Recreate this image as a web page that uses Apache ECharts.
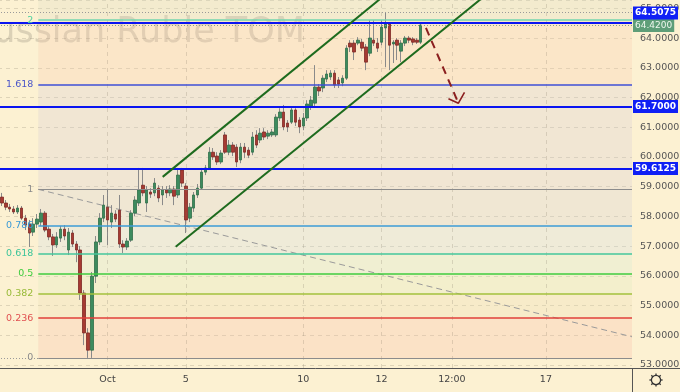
<!DOCTYPE html>
<html><head><meta charset="utf-8">
<script src="https://cdn.jsdelivr.net/npm/echarts@6/dist/echarts.min.js"></script>
<style>html,body{margin:0;padding:0;background:#fcf1d2}#c{width:680px;height:392px}</style>
</head><body><div id="c"></div>
<script>
// hourly candles, USD/RUB TOM
const opens  = [58.65,58.45,58.31,58.25,58.15,58.28,57.94,57.74,57.47,57.74,57.81,58.11,57.57,57.31,57.04,57.27,57.57,56.87,57.44,57.07,
  56.87,55.42,54.08,53.50,55.99,57.14,57.94,58.31,57.81,58.08,58.21,57.07,56.97,57.20,58.11,58.45,59.05,58.45,58.82,58.79,
  58.95,58.72,58.89,58.79,58.92,58.72,59.56,59.02,57.94,58.28,58.72,58.95,59.49,59.63,60.16,60.03,59.83,60.74,60.16,60.40,
  60.33,59.90,60.33,60.23,60.16,60.74,60.57,60.84,60.70,60.74,60.74,61.31,61.51,61.14,61.17,61.58,61.24,61.04,61.31,61.71,
  61.81,62.35,62.32,62.62,62.69,62.82,62.59,62.49,62.65,63.83,63.83,63.83,63.86,63.70,63.49,63.93,63.83,63.86,64.34,64.47,
  63.80,63.93,63.56,63.83,64.00,63.97,63.93,63.86];
const closes = [58.45,58.31,58.25,58.15,58.28,57.94,57.71,57.44,57.74,57.91,58.11,57.54,57.31,57.04,57.31,57.57,57.34,57.47,57.07,56.87,
  55.42,54.08,53.50,55.99,57.14,57.94,58.38,57.88,58.11,57.91,57.07,56.97,57.17,58.11,58.55,58.89,58.79,58.89,58.75,59.12,
  58.62,58.89,58.79,58.92,58.68,59.39,59.12,57.88,58.31,58.72,58.95,59.49,59.63,60.16,60.00,59.83,60.13,60.16,60.40,60.16,
  59.83,60.33,60.16,60.06,60.67,60.40,60.80,60.67,60.80,60.84,61.34,61.51,61.01,61.01,61.58,61.17,61.01,61.31,61.78,61.91,
  62.35,62.22,62.65,62.79,62.82,62.42,62.45,62.65,63.66,63.70,63.53,63.93,63.66,63.19,64.00,63.83,63.66,64.37,64.47,63.76,
  63.86,63.76,63.83,64.00,63.93,63.86,63.86,64.44];
const lows   = [58.35,58.21,58.15,58.08,58.08,57.88,57.54,56.97,57.34,57.61,57.68,57.47,57.20,56.67,56.94,57.14,57.20,56.70,56.97,56.46,
  55.19,53.67,53.24,53.24,55.76,57.04,57.81,57.04,57.61,57.81,56.94,56.77,56.87,57.14,58.01,58.35,58.68,58.15,58.62,58.68,
  58.48,58.38,58.62,58.68,58.38,58.62,58.99,57.44,57.81,58.15,58.62,58.89,59.39,59.56,59.90,59.73,59.76,60.10,60.06,60.03,
  59.66,59.79,59.96,59.96,60.06,60.30,60.47,60.57,60.60,60.67,60.67,61.21,60.90,60.84,61.11,61.04,60.80,60.90,61.21,61.58,
  61.71,62.05,62.18,62.52,62.59,62.32,62.32,62.38,62.59,63.53,63.26,63.76,63.56,62.92,63.39,63.73,63.53,63.76,63.02,62.92,
  63.16,63.26,63.19,63.73,63.83,63.76,63.80,63.80];
const highs  = [58.79,58.55,58.42,58.35,58.38,58.35,58.05,57.88,57.94,58.08,58.25,58.18,57.68,57.41,57.47,57.68,57.71,57.61,57.54,57.17,
  57.00,55.52,54.24,56.13,57.34,58.11,58.72,58.89,58.38,58.21,58.72,57.20,57.27,58.21,58.68,59.63,59.63,59.02,58.95,59.29,
  59.05,59.02,59.02,59.05,59.02,59.63,59.63,59.12,58.45,58.82,59.09,59.63,59.73,60.33,60.30,60.16,60.23,60.84,60.57,60.50,
  60.43,60.47,60.47,60.33,60.84,60.90,60.97,60.97,60.90,60.94,61.44,61.64,61.75,61.24,61.71,61.64,61.34,61.48,61.91,62.05,
  63.09,62.45,62.75,62.92,62.92,62.92,62.69,62.75,63.76,63.93,63.93,64.03,63.97,63.80,64.60,64.60,64.00,64.60,64.87,64.54,
  63.93,64.00,63.93,64.07,64.07,64.03,64.00,64.47];

const xLabelIdx  = [28, 48, 78, 98, 116, 140];
const xLabelText = ['Oct', '5', '10', '12', '12:00', '17'];

const fibRatios = ['0', '0.236', '0.382', '0.5', '0.618', '0.786', '1', '1.618', '2'];
const fibPrices = [53.24, 54.58, 55.41, 56.08, 56.75, 57.70, 58.92, 62.43, 64.60];
const fibStart = 10.3;

const levelPrices = [64.5075, 61.70, 59.6125];
const levelLabels = ['64.5075', '61.7000', '59.6125'];
const lastPrice = 64.42;
const highPrice = 64.87;
const lowPrice = 53.24;

const upperChannel = [[42.08, 59.33], [100, 65.57]];
const lowerChannel = [[45.4, 56.98], [130, 66.02]];
const trendLine = [[10.3, 58.91], [162, 53.95]];
const arrowLine = [[109.35, 64.34], [117.65, 61.81]];
const arrowHead = [[115.1, 61.96], [117.65, 61.81], [119.2, 62.17]];

const N = 163;
const cats = Array.from({length: N}, (_, k) => String(k));
const labelMap = {};
xLabelIdx.forEach((k, n) => labelMap[k] = xLabelText[n]);

const wickData = opens.map((o, i) => [i + 1, o, closes[i], lows[i], highs[i]]);
const bodyData = opens.map((o, i) => [i + 1, o, closes[i], Math.min(o, closes[i]), Math.max(o, closes[i])]);

const FONT = 'DejaVu Sans';
const fibColors = ['#8c8c8c', '#e0413a', '#a3c23d', '#3fcc3f', '#45c79c', '#3d9bd6', '#8c8c8c', '#3f4fd6', '#72d6ae'];
const fibLabelColors = ['#8c8c8c', '#e05050', '#98ba38', '#3ccc3c', '#3cc49a', '#3a9ad6', '#8c8c8c', '#4a55c8', '#4cd19f'];
const bandColors = ['rgba(248,185,162,0.25)', 'rgba(232,221,174,0.25)', 'rgba(216,237,186,0.25)', 'rgba(204,237,210,0.25)',
  'rgba(200,221,234,0.25)', 'rgba(204,205,214,0.25)', 'rgba(208,201,214,0.25)', 'rgba(248,201,170,0.25)', 'rgba(216,221,194,0.25)'];

const bands = [];
for (let k = 1; k < fibPrices.length; k++) {
  bands.push([{coord: [fibStart, fibPrices[k - 1]], itemStyle: {color: bandColors[k - 1]}}, {coord: [162, fibPrices[k]]}]);
}
bands.push([{coord: [fibStart, fibPrices[fibPrices.length - 1]], itemStyle: {color: bandColors[8]}}, {coord: [162, 65.28]}]);

const fibLines = fibPrices.map((p, k) => [
  {coord: [fibStart, p], lineStyle: {color: fibColors[k], width: (k === 0 || k === 6) ? 1.2 : 1.5, type: 'solid'},
   label: {show: true, position: 'start', formatter: fibRatios[k], color: fibLabelColors[k], fontSize: 9.5, fontFamily: FONT, distance: 5}},
  {coord: [162, p]}
]);

const gridDash = {color: 'rgba(120,110,90,0.22)', type: [4, 4], width: 1};
const vGrid = xLabelIdx.map((k) => [{coord: [k, 52.9], lineStyle: gridDash, label: {show: false}}, {coord: [k, 65.28]}]);

const chart = echarts.init(document.getElementById('c'), null, {renderer: 'canvas'});

const spokes = [];
for (let k = 0; k < 8; k++) {
  const a = k * Math.PI / 4;
  spokes.push({type: 'line', shape: {x1: 4.6 * Math.cos(a), y1: 4.6 * Math.sin(a), x2: 6.6 * Math.cos(a), y2: 6.6 * Math.sin(a)},
    style: {stroke: '#333', lineWidth: 1.3}});
}

const boxLabel = (text, bg, fg, weight) => ({show: true, position: 'end', distance: 1, formatter: text, backgroundColor: bg, color: fg,
  padding: [2, 2, 1, 2], fontSize: 9, fontWeight: weight, fontFamily: FONT, lineHeight: 10});

chart.setOption({
  backgroundColor: '#fcf1d2',
  animation: false,
  grid: {left: -2, right: 48, top: 0, bottom: 24, containLabel: false, outerBoundsMode: 'none'},
  xAxis: [{
    type: 'category', data: cats, boundaryGap: false,
    axisLine: {show: true, lineStyle: {color: '#555', width: 1}},
    axisTick: {show: false},
    axisLabel: {interval: 0, hideOverlap: false, showMinLabel: false, showMaxLabel: false,
      formatter: (v, idx) => labelMap[idx] || '',
      color: '#444', fontSize: 9.5, fontFamily: FONT, margin: 7},
    splitLine: {show: false}
  }, {
    type: 'value', min: 0, max: 162, show: false
  }],
  yAxis: {
    type: 'value', position: 'right', min: 52.9, max: 65.28, splitNumber: 12, scale: true,
    axisLine: {show: true, lineStyle: {color: '#555', width: 1}},
    axisTick: {show: false},
    axisLabel: {formatter: (v) => v.toFixed(4), color: '#555', fontSize: 9.5, fontFamily: FONT, margin: 8,
      showMinLabel: false, showMaxLabel: false},
    splitLine: {show: true, lineStyle: gridDash}
  },
  graphic: [
    {type: 'text', z: 0, silent: true, style: {text: 'Russian Ruble TOM', x: 305, y: 33, align: 'right', verticalAlign: 'middle',
      font: '35px "DejaVu Sans"', fill: 'rgba(125,118,105,0.26)'}},
    {type: 'line', z: 100, shape: {x1: 632.5, y1: 368, x2: 632.5, y2: 392}, style: {stroke: '#555', lineWidth: 1}},
    {type: 'line', z: 100, shape: {x1: 632, y1: 368.5, x2: 680, y2: 368.5}, style: {stroke: '#555', lineWidth: 1}},
    {type: 'group', x: 656, y: 380, z: 100, children: [
      {type: 'circle', shape: {cx: 0, cy: 0, r: 4.6}, style: {fill: 'none', stroke: '#333', lineWidth: 1.3}}
    ].concat(spokes)}
  ],
  series: [
    {type: 'line', xAxisIndex: 1, data: [], z: 1, silent: true,
      markArea: {silent: true, data: bands}},
    {type: 'line', xAxisIndex: 1, data: [], z: 1, silent: true,
      markLine: {silent: true, symbol: 'none', data: vGrid}},
    {type: 'line', xAxisIndex: 1, data: [], z: 2, silent: true,
      markLine: {silent: true, symbol: 'none', data: [
        {yAxis: highPrice, lineStyle: {color: '#9a9a9a', type: [1, 2], width: 1}, label: {show: false}},
        {yAxis: lowPrice, lineStyle: {color: '#9a9a9a', type: [1, 2], width: 1}, label: {show: false}}
      ]}},
    {type: 'line', xAxisIndex: 1, data: [], z: 2, silent: true,
      markLine: {silent: true, symbol: 'none', data: fibLines}},
    {type: 'line', xAxisIndex: 1, data: trendLine, z: 2, showSymbol: false, silent: true,
      lineStyle: {color: '#9a9a9a', width: 1, type: [6, 4]}},
    {name: 'wick', type: 'candlestick', data: wickData, encode: {x: 0, y: [1, 2, 3, 4]}, barWidth: 0.4, z: 3,
      itemStyle: {color: '#8a8a8a', color0: '#8a8a8a', borderColor: '#8a8a8a', borderColor0: '#8a8a8a', borderWidth: 1}},
    {name: 'body', type: 'candlestick', data: bodyData, encode: {x: 0, y: [1, 2, 3, 4]}, barWidth: 3, z: 4,
      itemStyle: {color: '#3d8b5e', color0: '#a63a32', borderColor: '#2f6e49', borderColor0: '#7e2824', borderWidth: 0.8}},
    {type: 'line', xAxisIndex: 1, data: upperChannel, z: 5, showSymbol: false, silent: true,
      lineStyle: {color: '#1e6b1e', width: 2}},
    {type: 'line', xAxisIndex: 1, data: lowerChannel, z: 5, showSymbol: false, silent: true,
      lineStyle: {color: '#1e6b1e', width: 2}},
    {type: 'line', xAxisIndex: 1, data: arrowLine, z: 5, showSymbol: false, silent: true,
      lineStyle: {color: '#8b1f1f', width: 2, type: [8, 6]}},
    {type: 'line', xAxisIndex: 1, data: arrowHead, z: 5, showSymbol: false, silent: true,
      lineStyle: {color: '#8b1f1f', width: 1.6}},
    {type: 'line', xAxisIndex: 1, data: [], z: 6, silent: true,
      markLine: {silent: true, symbol: 'none', data: [
        {yAxis: lastPrice, lineStyle: {color: '#8a9a8a', type: [1, 2], width: 1},
          label: boxLabel('64.4200', '#5e9e78', '#eef7ee', 'normal')}
      ]}},
    {type: 'line', xAxisIndex: 1, data: [], z: 7, silent: true,
      markLine: {silent: true, symbol: 'none', data: levelPrices.map((p, k) => ({
        yAxis: p, lineStyle: {color: '#0a14f0', width: 2, type: 'solid'},
        label: Object.assign(boxLabel(levelLabels[k], '#1020f5', '#ffffff', 'bold'), {offset: k === 0 ? [0, -10] : [0, 0]})
      }))}}
  ]
});
</script>
</body></html>
